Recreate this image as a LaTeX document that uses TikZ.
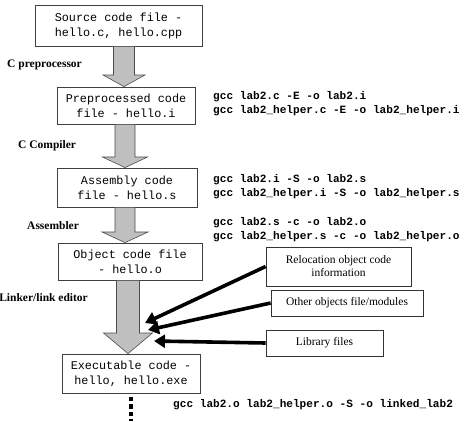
\documentclass[tikz,border=0pt]{standalone}
\usepackage{fontspec}
\setmainfont{Liberation Serif}
\newfontfamily\cour{Liberation Mono}
\usetikzlibrary{calc,arrows.meta}
\newcommand\blockarr[6]{%
  \path[blk] let \p1=(#1.south), \p2=(#2.north) in
    (#3-#4,\y1) -- (#3+#4,\y1) -- (#3+#4,#6) -- (#3+#5,#6) -- (#3,\y2)
    -- (#3-#5,#6) -- (#3-#4,#6) -- cycle;}
\begin{document}
\begin{tikzpicture}[x=1pt,y=-1pt,
  box/.style={draw=black!75, line width=0.8pt, fill=white, inner sep=0pt, align=center,
    font=\cour\fontsize{11.8}{15}\selectfont},
  sidebox/.style={draw=black!80, line width=0.8pt, fill=white, inner sep=0pt, align=center,
    font=\fontsize{11.5}{13}\selectfont},
  stage/.style={font=\bfseries\fontsize{11.5}{13}\selectfont, inner sep=0pt},
  cmd/.style={font=\cour\bfseries\fontsize{11.1}{14}\selectfont, anchor=west, inner sep=0pt, align=left},
  blk/.style={fill=black!25, draw=black!70, line width=0.6pt},
  feed/.style={line width=3.6pt, -{Triangle[length=11pt,width=13pt]}}]
\useasboundingbox (0,0) rectangle (474,421);
\fill[white] (0,0) rectangle (474,421);

% main boxes
\node[box, minimum width=167, minimum height=41] (src) at (118.5,25.5) {Source code file -\\hello.c, hello.cpp};
\node[box, minimum width=138, minimum height=37] (pre) at (126,105.5) {Preprocessed code\\file - hello.i};
\node[box, minimum width=140, minimum height=39] (asm) at (127,187.5) {Assembly code\\file - hello.s};
\node[box, minimum width=144, minimum height=37] (obj) at (130,261.5) {Object code file\\- hello.o};
\node[box, minimum width=138, minimum height=39] (exe) at (131,373.5) {Executable code -\\hello, hello.exe};

% block arrows
\blockarr{src}{pre}{124}{10.5}{21}{75}
\blockarr{pre}{asm}{125}{10}{22.5}{157}
\blockarr{asm}{obj}{125}{10}{23}{232}
\blockarr{obj}{exe}{128}{11.5}{24.5}{333}

% stage labels
\node[stage, anchor=west] (l1) at (7,65) {C preprocessor};
\node[stage, anchor=west] (l2) at (18,146) {C Compiler};
\node[stage, anchor=west] (l3) at (27,226) {Assembler};
\node[stage, anchor=east] (l4) at (88,298) {Linker/link editor};

% commands
\node[cmd] (c1) at (213,104) {gcc lab2.c -E -o lab2.i\\gcc lab2\_helper.c -E -o lab2\_helper.i};
\node[cmd] (c2) at (213,186.5) {gcc lab2.i -S -o lab2.s\\gcc lab2\_helper.i -S -o lab2\_helper.s};
\node[cmd] (c3) at (213,230) {gcc lab2.s -c -o lab2.o\\gcc lab2\_helper.s -c -o lab2\_helper.o};
\node[cmd] (c4) at (173,405) {gcc lab2.o lab2\_helper.o -S -o linked\_lab2};

% side boxes
\node[sidebox, minimum width=145, minimum height=39] (rel) at (338.5,266.5) {Relocation object code\\information};
\node[sidebox, minimum width=152, minimum height=26] (oth) at (347,303) {Other objects file/modules};
\node[sidebox, minimum width=117, minimum height=26] (lib) at (324.5,343) {Library files};

\coordinate (t1) at (145,323);
\coordinate (t2) at (148,330);
\coordinate (t3) at (154,341);
\draw[feed] (rel.west) -- (t1);
\draw[feed] (oth.west) -- (t2);
\draw[feed] (lib.west) -- (t3);

% continuation dots
\coordinate (dend) at (131,421);
\draw[line width=4.5pt, dash pattern=on 4.5pt off 3pt] ([yshift=-3.5pt]exe.south) -- (dend);
\end{tikzpicture}
\end{document}
